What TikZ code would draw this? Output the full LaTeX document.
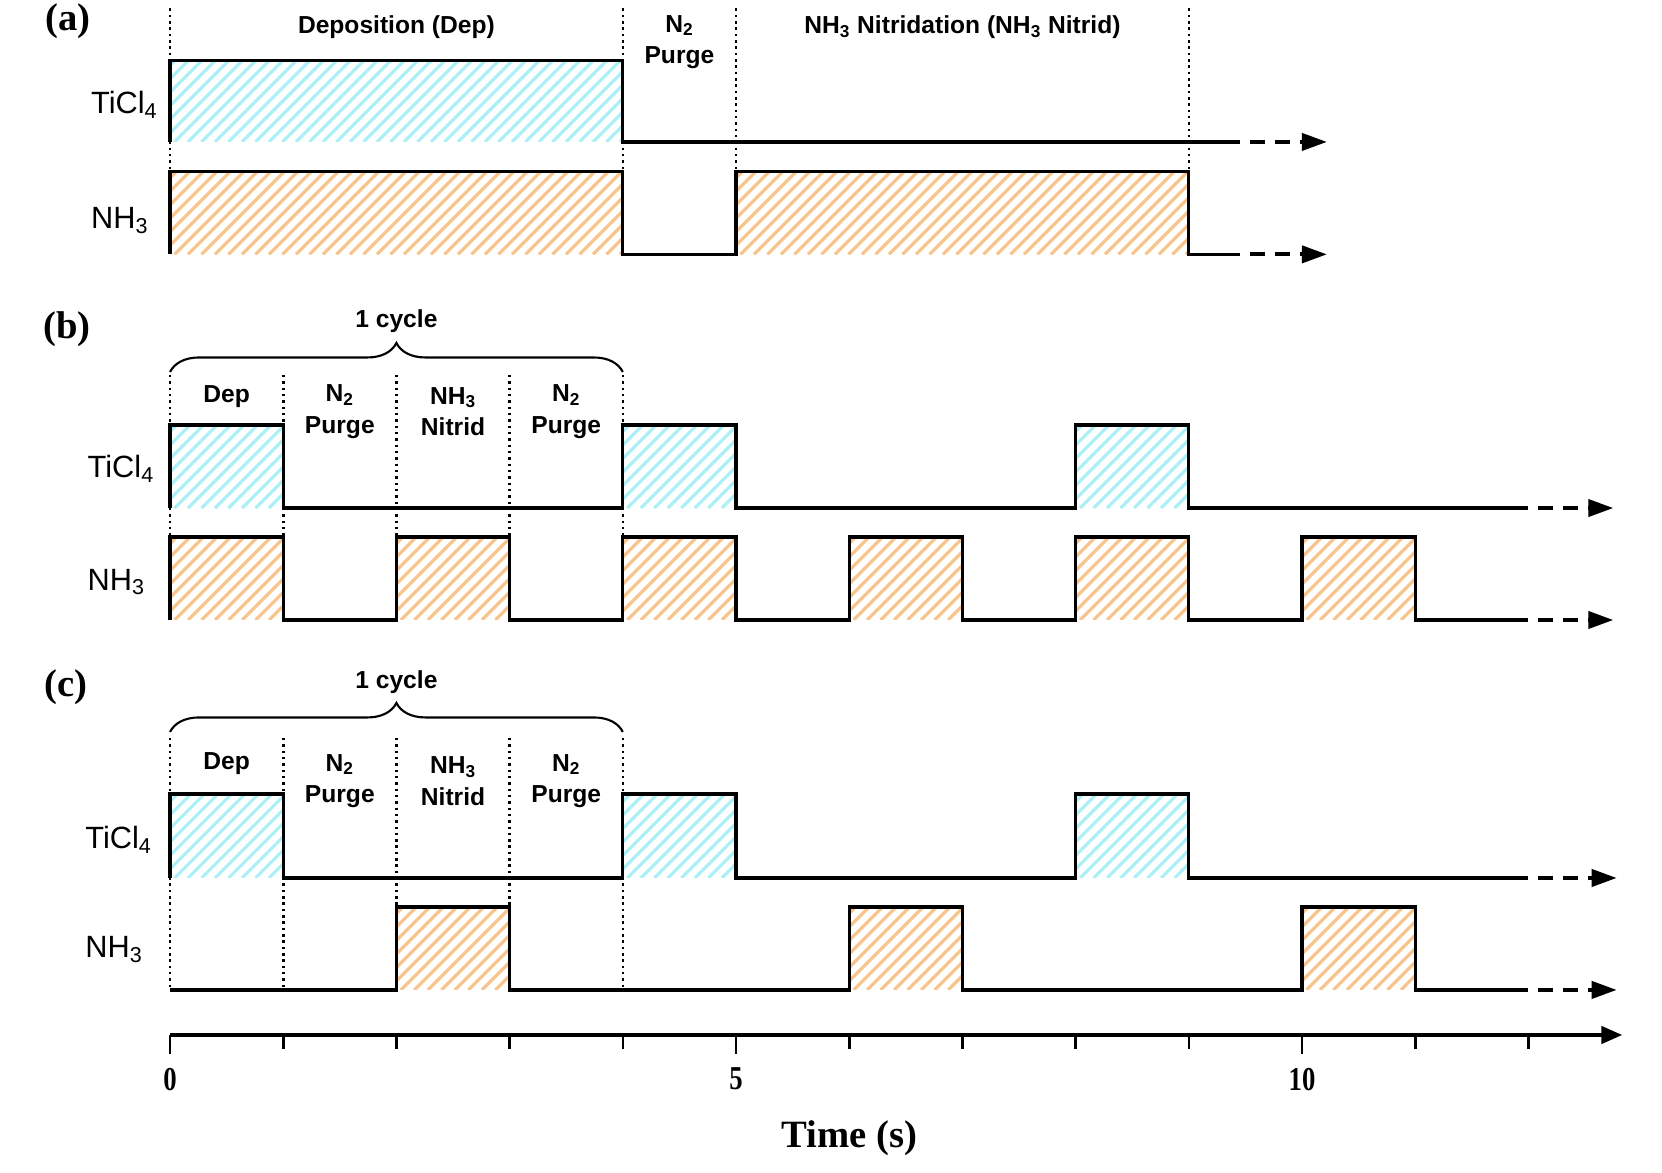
\documentclass[tikz,border=0pt]{standalone}
\usepackage{fontspec}
\setmainfont{Liberation Sans}
\newfontfamily\panelfont{Liberation Serif}
\newfontfamily\tickfont[FakeStretch=0.8]{Liberation Serif}
\usepackage{tikz}
\usetikzlibrary{arrows.meta}
\usetikzlibrary{decorations.pathreplacing}
\definecolor{ticlhatch}{RGB}{170,240,246}
\definecolor{nhhatch}{RGB}{248,196,140}
\tikzset{
    sigline/.style={draw=black, line width=1.8pt},
    phaseline/.style={draw=black, line width=1.5pt, dash pattern=on 1.4pt off 2.2pt},
    tailarrow/.style={draw=black, line width=2.2pt, dash pattern=on 0.3cm off 0.2cm,
        dash phase=0.3cm, -{Triangle[length=0.5cm,width=0.34cm]}},
    hatched/.style={fill=white, path picture={
        \foreach \k in {0,...,45}
            \draw[#1, line width=1.8pt] ([xshift={\k*0.27cm-1.8cm}]path picture bounding box.south west) -- ++(2cm,2cm);
    }},
    ticlhatchfill/.style={hatched=ticlhatch},
    nhhatchfill/.style={hatched=nhhatch},
    gaslabel/.style={anchor=base west, inner sep=0pt, font=\fontsize{17.5}{20}\selectfont},
    steplabel/.style={align=center, inner sep=0pt, font=\bfseries\fontsize{14}{18}\selectfont},
    panellabel/.style={inner sep=0pt, font=\panelfont\bfseries\fontsize{22}{24}\selectfont},
    cyclebrace/.style={draw=black, line width=1.2pt, decorate, decoration={brace, amplitude=0.58cm}},
    timeaxis/.style={draw=black, line width=2.5pt, -{Triangle[length=0.42cm,width=0.34cm]}},
    axistick/.style={draw=black, line width=1.5pt},
    ticklabel/.style={inner sep=0pt, font=\tickfont\bfseries\fontsize{19}{21}\selectfont},
    axistitle/.style={inner sep=0pt, font=\panelfont\bfseries\fontsize{22}{24}\selectfont},
}
\begin{document}
\begin{tikzpicture}[x=2.264cm, y=2.264cm]
	\useasboundingbox (-1.502,-1.219) rectangle (13.180,9.143);
	% (a) single long pulses
	\foreach \t in {0,4,5,9}
		\draw[phaseline] (\t,9.068) -- (\t,6.896);
	\path[ticlhatchfill] (0,7.889) rectangle (4,8.610);
	\path[nhhatchfill] (0,6.896) rectangle (4,7.626);
	\path[nhhatchfill] (5,6.896) rectangle (9,7.626);
	\draw[sigline] (0,7.889) -- (0,8.610) -- (4,8.610) -- (4,7.889) -- (9.45,7.889) coordinate (ticlenda);
	\draw[sigline] (0,6.896) -- (0,7.626) -- (4,7.626) -- (4,6.896) -- (5,6.896) -- (5,7.626)
		-- (9,7.626) -- (9,6.896) -- (9.45,6.896) coordinate (nhenda);
	\draw[tailarrow] (ticlenda) -- ++(0.77,0);
	\draw[tailarrow] (nhenda) -- ++(0.77,0);
	\node[panellabel] (pa) at (-0.90,8.956) {(a)};
	\node[gaslabel] (ticla) at (-0.70,8.140) {TiCl\textsubscript{4}};
	\node[gaslabel] (nha) at (-0.70,7.124) {NH\textsubscript{3}};
	\node[steplabel] (depa) at (2,8.90) {Deposition (Dep)};
	\node[steplabel] (purgea) at (4.5,8.772) {N\textsubscript{2}\\Purge};
	\node[steplabel] (nitrida) at (7,8.90) {NH\textsubscript{3} Nitridation (NH\textsubscript{3} Nitrid)};
	% (b) short pulses, NH3 always on except purge
	\foreach \t in {0,...,4}
		\draw[phaseline] (\t,5.830) -- (\t,3.666);
	\foreach \t in {0,4,8}
		\path[ticlhatchfill] (\t,4.655) rectangle (\t+1,5.389);
	\foreach \t in {0,2,4,6,8,10}
		\path[nhhatchfill] (\t,3.666) rectangle (\t+1,4.399);
	\draw[sigline] (0,4.655) \foreach \t in {0,4,8} {-- (\t,4.655) -- (\t,5.389) -- (\t+1,5.389) -- (\t+1,4.655)}
		-- (12,4.655) coordinate (ticlendb);
	\draw[sigline] (0,3.666) \foreach \t in {0,2,4,6,8,10} {-- (\t,3.666) -- (\t,4.399) -- (\t+1,4.399) -- (\t+1,3.666)}
		-- (12,3.666) coordinate (nhendb);
	\draw[tailarrow] (ticlendb) -- ++(0.75,0);
	\draw[tailarrow] (nhendb) -- ++(0.75,0);
	\draw[cyclebrace] (0,5.857) -- (4,5.857);
	\node[steplabel] (cycleb) at (2,6.307) {1 cycle};
	\node[panellabel] (pb) at (-0.91,6.237) {(b)};
	\node[gaslabel] (ticlb) at (-0.73,4.921) {TiCl\textsubscript{4}};
	\node[gaslabel] (nhb) at (-0.73,3.930) {NH\textsubscript{3}};
	\node[steplabel] (depb) at (0.5,5.636) {Dep};
	\node[steplabel] (purgeb) at (1.5,5.508) {N\textsubscript{2}\\Purge};
	\node[steplabel] (nitridb) at (2.5,5.508) {NH\textsubscript{3}\\Nitrid};
	\node[steplabel] (purgeb2) at (3.5,5.508) {N\textsubscript{2}\\Purge};
	% (c) short pulses, NH3 only in nitridation
	\foreach \t in {0,...,4}
		\draw[phaseline] (\t,2.624) -- (\t,0.398);
	\foreach \t in {0,4,8}
		\path[ticlhatchfill] (\t,1.387) rectangle (\t+1,2.129);
	\foreach \t in {2,6,10}
		\path[nhhatchfill] (\t,0.398) rectangle (\t+1,1.131);
	\draw[sigline] (0,1.387) \foreach \t in {0,4,8} {-- (\t,1.387) -- (\t,2.129) -- (\t+1,2.129) -- (\t+1,1.387)}
		-- (12,1.387) coordinate (ticlendc);
	\draw[sigline] (0,0.398) \foreach \t in {2,6,10} {-- (\t,0.398) -- (\t,1.131) -- (\t+1,1.131) -- (\t+1,0.398)}
		-- (12,0.398) coordinate (nhendc);
	\draw[tailarrow] (ticlendc) -- ++(0.78,0);
	\draw[tailarrow] (nhendc) -- ++(0.78,0);
	\draw[cyclebrace] (0,2.677) -- (4,2.677);
	\node[steplabel] (cyclec) at (2,3.118) {1 cycle};
	\node[panellabel] (pc) at (-0.92,3.074) {(c)};
	\node[gaslabel] (ticlc) at (-0.75,1.647) {TiCl\textsubscript{4}};
	\node[gaslabel] (nhc) at (-0.75,0.684) {NH\textsubscript{3}};
	\node[steplabel] (depc) at (0.5,2.394) {Dep};
	\node[steplabel] (purgec) at (1.5,2.244) {N\textsubscript{2}\\Purge};
	\node[steplabel] (nitridc) at (2.5,2.244) {NH\textsubscript{3}\\Nitrid};
	\node[steplabel] (purgec2) at (3.5,2.244) {N\textsubscript{2}\\Purge};
	% time axis
	\draw[timeaxis] (0,0) coordinate (origin) -- (12.83,0);
	\foreach \t in {0,...,12}
		\draw[axistick] (\t,0) -- (\t,-0.12);
	\foreach \t in {0,5,10} {
		\draw[axistick] (\t,0) -- (\t,-0.17);
		\node[ticklabel] (tick\t) at (\t,-0.39) {\t};
	}
	\node[axistitle] (timetitle) at (6,-0.91) {Time (s)};
\end{tikzpicture}
\end{document}
